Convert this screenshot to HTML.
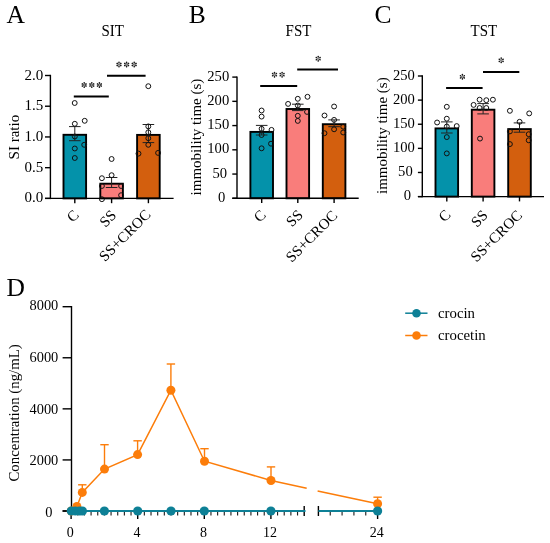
<!DOCTYPE html>
<html><head><meta charset="utf-8"><style>
html,body{margin:0;padding:0;background:#fff;}
svg{display:block;will-change:transform;font-family:"Liberation Serif",serif;}
</style></head><body>
<svg width="550" height="543" viewBox="0 0 550 543">
<rect width="550" height="543" fill="#fff"/>
<rect x="63.5" y="134.8" width="22.6" height="63.6" fill="#0492aa" stroke="#000" stroke-width="1.9"/>
<rect x="100.3" y="183.7" width="22.6" height="14.7" fill="#f97d7b" stroke="#000" stroke-width="1.9"/>
<rect x="137.1" y="134.9" width="22.6" height="63.5" fill="#d35f0e" stroke="#000" stroke-width="1.9"/>
<line x1="74.8" y1="126.6" x2="74.8" y2="140.7" stroke="#222" stroke-width="1.0"/>
<line x1="69.0" y1="126.6" x2="80.6" y2="126.6" stroke="#222" stroke-width="1.0"/>
<line x1="69.0" y1="140.7" x2="80.6" y2="140.7" stroke="#222" stroke-width="1.0"/>
<line x1="111.6" y1="177.5" x2="111.6" y2="187.5" stroke="#222" stroke-width="1.0"/>
<line x1="105.8" y1="177.5" x2="117.4" y2="177.5" stroke="#222" stroke-width="1.0"/>
<line x1="105.8" y1="187.5" x2="117.4" y2="187.5" stroke="#222" stroke-width="1.0"/>
<line x1="148.4" y1="124.5" x2="148.4" y2="142.6" stroke="#222" stroke-width="1.0"/>
<line x1="142.6" y1="124.5" x2="154.2" y2="124.5" stroke="#222" stroke-width="1.0"/>
<line x1="142.6" y1="142.6" x2="154.2" y2="142.6" stroke="#222" stroke-width="1.0"/>
<circle cx="74.8" cy="123.8" r="2.45" fill="none" stroke="#111" stroke-width="1.0"/>
<circle cx="84.7" cy="120.8" r="2.45" fill="none" stroke="#111" stroke-width="1.0"/>
<circle cx="74.8" cy="136.5" r="2.45" fill="none" stroke="#111" stroke-width="1.0"/>
<circle cx="84.2" cy="144.8" r="2.45" fill="none" stroke="#111" stroke-width="1.0"/>
<circle cx="74.8" cy="148.5" r="2.45" fill="none" stroke="#111" stroke-width="1.0"/>
<circle cx="74.8" cy="158" r="2.45" fill="none" stroke="#111" stroke-width="1.0"/>
<circle cx="74.7" cy="103" r="2.45" fill="none" stroke="#111" stroke-width="1.0"/>
<circle cx="111.6" cy="159" r="2.45" fill="none" stroke="#111" stroke-width="1.0"/>
<circle cx="111.6" cy="175.2" r="2.45" fill="none" stroke="#111" stroke-width="1.0"/>
<circle cx="101.9" cy="178.2" r="2.45" fill="none" stroke="#111" stroke-width="1.0"/>
<circle cx="101.9" cy="186" r="2.45" fill="none" stroke="#111" stroke-width="1.0"/>
<circle cx="121.1" cy="186" r="2.45" fill="none" stroke="#111" stroke-width="1.0"/>
<circle cx="121.1" cy="195.2" r="2.45" fill="none" stroke="#111" stroke-width="1.0"/>
<circle cx="101.9" cy="199.2" r="2.45" fill="none" stroke="#111" stroke-width="1.0"/>
<circle cx="148.3" cy="86.2" r="2.45" fill="none" stroke="#111" stroke-width="1.0"/>
<circle cx="148.3" cy="126.4" r="2.45" fill="none" stroke="#111" stroke-width="1.0"/>
<circle cx="148.3" cy="132.3" r="2.45" fill="none" stroke="#111" stroke-width="1.0"/>
<circle cx="148.3" cy="138.2" r="2.45" fill="none" stroke="#111" stroke-width="1.0"/>
<circle cx="148.3" cy="144.8" r="2.45" fill="none" stroke="#111" stroke-width="1.0"/>
<circle cx="138.5" cy="153.6" r="2.45" fill="none" stroke="#111" stroke-width="1.0"/>
<circle cx="158.1" cy="152.9" r="2.45" fill="none" stroke="#111" stroke-width="1.0"/>
<line x1="50.4" y1="74.8" x2="50.4" y2="199.1" stroke="#000" stroke-width="1.4"/>
<line x1="45.0" y1="198.4" x2="173.6" y2="198.4" stroke="#000" stroke-width="1.4"/>
<line x1="45.0" y1="198.4" x2="50.4" y2="198.4" stroke="#000" stroke-width="1.4"/>
<text x="43.2" y="202.4" font-size="15" text-anchor="end" fill="#000" >0.0</text>
<line x1="45.0" y1="167.68" x2="50.4" y2="167.68" stroke="#000" stroke-width="1.4"/>
<text x="43.2" y="171.68" font-size="15" text-anchor="end" fill="#000" >0.5</text>
<line x1="45.0" y1="136.95" x2="50.4" y2="136.95" stroke="#000" stroke-width="1.4"/>
<text x="43.2" y="140.95" font-size="15" text-anchor="end" fill="#000" >1.0</text>
<line x1="45.0" y1="106.22" x2="50.4" y2="106.22" stroke="#000" stroke-width="1.4"/>
<text x="43.2" y="110.22" font-size="15" text-anchor="end" fill="#000" >1.5</text>
<line x1="45.0" y1="75.5" x2="50.4" y2="75.5" stroke="#000" stroke-width="1.4"/>
<text x="43.2" y="79.5" font-size="15" text-anchor="end" fill="#000" >2.0</text>
<line x1="74.8" y1="198.4" x2="74.8" y2="203.2" stroke="#000" stroke-width="1.4"/>
<line x1="111.6" y1="198.4" x2="111.6" y2="203.2" stroke="#000" stroke-width="1.4"/>
<line x1="148.4" y1="198.4" x2="148.4" y2="203.2" stroke="#000" stroke-width="1.4"/>
<line x1="73.8" y1="96.6" x2="108.8" y2="96.6" stroke="#000" stroke-width="2.0"/>
<g transform="translate(84.20,85.00)" fill="#1a1a1a"><path d="M0,0L-0.45,-1.5A0.8,0.8 0 1 1 0.45,-1.5Z" transform="rotate(0)"/><path d="M0,0L-0.45,-1.5A0.8,0.8 0 1 1 0.45,-1.5Z" transform="rotate(60)"/><path d="M0,0L-0.45,-1.5A0.8,0.8 0 1 1 0.45,-1.5Z" transform="rotate(120)"/><path d="M0,0L-0.45,-1.5A0.8,0.8 0 1 1 0.45,-1.5Z" transform="rotate(180)"/><path d="M0,0L-0.45,-1.5A0.8,0.8 0 1 1 0.45,-1.5Z" transform="rotate(240)"/><path d="M0,0L-0.45,-1.5A0.8,0.8 0 1 1 0.45,-1.5Z" transform="rotate(300)"/></g>
<g transform="translate(91.80,85.00)" fill="#1a1a1a"><path d="M0,0L-0.45,-1.5A0.8,0.8 0 1 1 0.45,-1.5Z" transform="rotate(0)"/><path d="M0,0L-0.45,-1.5A0.8,0.8 0 1 1 0.45,-1.5Z" transform="rotate(60)"/><path d="M0,0L-0.45,-1.5A0.8,0.8 0 1 1 0.45,-1.5Z" transform="rotate(120)"/><path d="M0,0L-0.45,-1.5A0.8,0.8 0 1 1 0.45,-1.5Z" transform="rotate(180)"/><path d="M0,0L-0.45,-1.5A0.8,0.8 0 1 1 0.45,-1.5Z" transform="rotate(240)"/><path d="M0,0L-0.45,-1.5A0.8,0.8 0 1 1 0.45,-1.5Z" transform="rotate(300)"/></g>
<g transform="translate(99.40,85.00)" fill="#1a1a1a"><path d="M0,0L-0.45,-1.5A0.8,0.8 0 1 1 0.45,-1.5Z" transform="rotate(0)"/><path d="M0,0L-0.45,-1.5A0.8,0.8 0 1 1 0.45,-1.5Z" transform="rotate(60)"/><path d="M0,0L-0.45,-1.5A0.8,0.8 0 1 1 0.45,-1.5Z" transform="rotate(120)"/><path d="M0,0L-0.45,-1.5A0.8,0.8 0 1 1 0.45,-1.5Z" transform="rotate(180)"/><path d="M0,0L-0.45,-1.5A0.8,0.8 0 1 1 0.45,-1.5Z" transform="rotate(240)"/><path d="M0,0L-0.45,-1.5A0.8,0.8 0 1 1 0.45,-1.5Z" transform="rotate(300)"/></g>
<line x1="107" y1="75.8" x2="145.6" y2="75.8" stroke="#000" stroke-width="2.0"/>
<g transform="translate(119.00,64.50)" fill="#1a1a1a"><path d="M0,0L-0.45,-1.5A0.8,0.8 0 1 1 0.45,-1.5Z" transform="rotate(0)"/><path d="M0,0L-0.45,-1.5A0.8,0.8 0 1 1 0.45,-1.5Z" transform="rotate(60)"/><path d="M0,0L-0.45,-1.5A0.8,0.8 0 1 1 0.45,-1.5Z" transform="rotate(120)"/><path d="M0,0L-0.45,-1.5A0.8,0.8 0 1 1 0.45,-1.5Z" transform="rotate(180)"/><path d="M0,0L-0.45,-1.5A0.8,0.8 0 1 1 0.45,-1.5Z" transform="rotate(240)"/><path d="M0,0L-0.45,-1.5A0.8,0.8 0 1 1 0.45,-1.5Z" transform="rotate(300)"/></g>
<g transform="translate(126.60,64.50)" fill="#1a1a1a"><path d="M0,0L-0.45,-1.5A0.8,0.8 0 1 1 0.45,-1.5Z" transform="rotate(0)"/><path d="M0,0L-0.45,-1.5A0.8,0.8 0 1 1 0.45,-1.5Z" transform="rotate(60)"/><path d="M0,0L-0.45,-1.5A0.8,0.8 0 1 1 0.45,-1.5Z" transform="rotate(120)"/><path d="M0,0L-0.45,-1.5A0.8,0.8 0 1 1 0.45,-1.5Z" transform="rotate(180)"/><path d="M0,0L-0.45,-1.5A0.8,0.8 0 1 1 0.45,-1.5Z" transform="rotate(240)"/><path d="M0,0L-0.45,-1.5A0.8,0.8 0 1 1 0.45,-1.5Z" transform="rotate(300)"/></g>
<g transform="translate(134.20,64.50)" fill="#1a1a1a"><path d="M0,0L-0.45,-1.5A0.8,0.8 0 1 1 0.45,-1.5Z" transform="rotate(0)"/><path d="M0,0L-0.45,-1.5A0.8,0.8 0 1 1 0.45,-1.5Z" transform="rotate(60)"/><path d="M0,0L-0.45,-1.5A0.8,0.8 0 1 1 0.45,-1.5Z" transform="rotate(120)"/><path d="M0,0L-0.45,-1.5A0.8,0.8 0 1 1 0.45,-1.5Z" transform="rotate(180)"/><path d="M0,0L-0.45,-1.5A0.8,0.8 0 1 1 0.45,-1.5Z" transform="rotate(240)"/><path d="M0,0L-0.45,-1.5A0.8,0.8 0 1 1 0.45,-1.5Z" transform="rotate(300)"/></g>
<text x="6.5" y="23" font-size="25.5" text-anchor="start" fill="#000" >A</text>
<text transform="translate(112.7,35.6) scale(1,1.1)" font-size="15" text-anchor="middle">SIT</text>
<text transform="translate(18.7,137.1) rotate(-90)" font-size="15" text-anchor="middle">SI ratio</text>
<text transform="translate(79.9,215.8) rotate(-45)" font-size="15" text-anchor="end">C</text>
<text transform="translate(117.2,216.2) rotate(-45)" font-size="15" text-anchor="end">SS</text>
<text transform="translate(151.7,215.5) rotate(-45)" font-size="15" text-anchor="end">SS+CROC</text>
<rect x="250.4" y="131.9" width="22.6" height="66.4" fill="#0492aa" stroke="#000" stroke-width="1.9"/>
<rect x="286.5" y="109.0" width="22.6" height="89.3" fill="#f97d7b" stroke="#000" stroke-width="1.9"/>
<rect x="322.8" y="124.2" width="22.6" height="74.1" fill="#d35f0e" stroke="#000" stroke-width="1.9"/>
<line x1="261.7" y1="125.4" x2="261.7" y2="135" stroke="#222" stroke-width="1.0"/>
<line x1="255.9" y1="125.4" x2="267.5" y2="125.4" stroke="#222" stroke-width="1.0"/>
<line x1="255.9" y1="135" x2="267.5" y2="135" stroke="#222" stroke-width="1.0"/>
<line x1="297.8" y1="104.2" x2="297.8" y2="110.6" stroke="#222" stroke-width="1.0"/>
<line x1="292.0" y1="104.2" x2="303.6" y2="104.2" stroke="#222" stroke-width="1.0"/>
<line x1="292.0" y1="110.6" x2="303.6" y2="110.6" stroke="#222" stroke-width="1.0"/>
<line x1="334.1" y1="119.9" x2="334.1" y2="126.7" stroke="#222" stroke-width="1.0"/>
<line x1="328.3" y1="119.9" x2="339.9" y2="119.9" stroke="#222" stroke-width="1.0"/>
<line x1="328.3" y1="126.7" x2="339.9" y2="126.7" stroke="#222" stroke-width="1.0"/>
<circle cx="261.6" cy="110.5" r="2.45" fill="none" stroke="#111" stroke-width="1.0"/>
<circle cx="261.6" cy="116.6" r="2.45" fill="none" stroke="#111" stroke-width="1.0"/>
<circle cx="261.6" cy="128.8" r="2.45" fill="none" stroke="#111" stroke-width="1.0"/>
<circle cx="271.5" cy="129.9" r="2.45" fill="none" stroke="#111" stroke-width="1.0"/>
<circle cx="261.6" cy="135" r="2.45" fill="none" stroke="#111" stroke-width="1.0"/>
<circle cx="271" cy="143.7" r="2.45" fill="none" stroke="#111" stroke-width="1.0"/>
<circle cx="261.6" cy="148.3" r="2.45" fill="none" stroke="#111" stroke-width="1.0"/>
<circle cx="288.1" cy="103.9" r="2.45" fill="none" stroke="#111" stroke-width="1.0"/>
<circle cx="297.8" cy="98.8" r="2.45" fill="none" stroke="#111" stroke-width="1.0"/>
<circle cx="307.5" cy="96.8" r="2.45" fill="none" stroke="#111" stroke-width="1.0"/>
<circle cx="297.8" cy="105.5" r="2.45" fill="none" stroke="#111" stroke-width="1.0"/>
<circle cx="307" cy="111.9" r="2.45" fill="none" stroke="#111" stroke-width="1.0"/>
<circle cx="297.8" cy="115.8" r="2.45" fill="none" stroke="#111" stroke-width="1.0"/>
<circle cx="297.8" cy="120.9" r="2.45" fill="none" stroke="#111" stroke-width="1.0"/>
<circle cx="334.1" cy="106.5" r="2.45" fill="none" stroke="#111" stroke-width="1.0"/>
<circle cx="324.5" cy="115.5" r="2.45" fill="none" stroke="#111" stroke-width="1.0"/>
<circle cx="334.1" cy="119.9" r="2.45" fill="none" stroke="#111" stroke-width="1.0"/>
<circle cx="343.2" cy="126.7" r="2.45" fill="none" stroke="#111" stroke-width="1.0"/>
<circle cx="334.1" cy="129.3" r="2.45" fill="none" stroke="#111" stroke-width="1.0"/>
<circle cx="324.5" cy="133.2" r="2.45" fill="none" stroke="#111" stroke-width="1.0"/>
<circle cx="343.2" cy="132.5" r="2.45" fill="none" stroke="#111" stroke-width="1.0"/>
<line x1="237.0" y1="76.4" x2="237.0" y2="199.0" stroke="#000" stroke-width="1.4"/>
<line x1="232.3" y1="198.3" x2="358.7" y2="198.3" stroke="#000" stroke-width="1.4"/>
<line x1="232.3" y1="198.3" x2="237.0" y2="198.3" stroke="#000" stroke-width="1.4"/>
<text x="225.4" y="201.8" font-size="14.6" text-anchor="end" fill="#000" >0</text>
<line x1="232.3" y1="174.06" x2="237.0" y2="174.06" stroke="#000" stroke-width="1.4"/>
<text x="227.1" y="177.56" font-size="14.6" text-anchor="end" fill="#000" >50</text>
<line x1="232.3" y1="149.82" x2="237.0" y2="149.82" stroke="#000" stroke-width="1.4"/>
<text x="229.2" y="153.32" font-size="14.6" text-anchor="end" fill="#000" >100</text>
<line x1="232.3" y1="125.58" x2="237.0" y2="125.58" stroke="#000" stroke-width="1.4"/>
<text x="229.2" y="129.08" font-size="14.6" text-anchor="end" fill="#000" >150</text>
<line x1="232.3" y1="101.34" x2="237.0" y2="101.34" stroke="#000" stroke-width="1.4"/>
<text x="229.2" y="104.84" font-size="14.6" text-anchor="end" fill="#000" >200</text>
<line x1="232.3" y1="77.1" x2="237.0" y2="77.1" stroke="#000" stroke-width="1.4"/>
<text x="229.2" y="80.6" font-size="14.6" text-anchor="end" fill="#000" >250</text>
<line x1="261.7" y1="198.3" x2="261.7" y2="203.1" stroke="#000" stroke-width="1.4"/>
<line x1="297.8" y1="198.3" x2="297.8" y2="203.1" stroke="#000" stroke-width="1.4"/>
<line x1="334.1" y1="198.3" x2="334.1" y2="203.1" stroke="#000" stroke-width="1.4"/>
<line x1="260.2" y1="85.9" x2="297.2" y2="85.9" stroke="#000" stroke-width="2.0"/>
<g transform="translate(274.50,74.70)" fill="#1a1a1a"><path d="M0,0L-0.45,-1.5A0.8,0.8 0 1 1 0.45,-1.5Z" transform="rotate(0)"/><path d="M0,0L-0.45,-1.5A0.8,0.8 0 1 1 0.45,-1.5Z" transform="rotate(60)"/><path d="M0,0L-0.45,-1.5A0.8,0.8 0 1 1 0.45,-1.5Z" transform="rotate(120)"/><path d="M0,0L-0.45,-1.5A0.8,0.8 0 1 1 0.45,-1.5Z" transform="rotate(180)"/><path d="M0,0L-0.45,-1.5A0.8,0.8 0 1 1 0.45,-1.5Z" transform="rotate(240)"/><path d="M0,0L-0.45,-1.5A0.8,0.8 0 1 1 0.45,-1.5Z" transform="rotate(300)"/></g>
<g transform="translate(282.10,74.70)" fill="#1a1a1a"><path d="M0,0L-0.45,-1.5A0.8,0.8 0 1 1 0.45,-1.5Z" transform="rotate(0)"/><path d="M0,0L-0.45,-1.5A0.8,0.8 0 1 1 0.45,-1.5Z" transform="rotate(60)"/><path d="M0,0L-0.45,-1.5A0.8,0.8 0 1 1 0.45,-1.5Z" transform="rotate(120)"/><path d="M0,0L-0.45,-1.5A0.8,0.8 0 1 1 0.45,-1.5Z" transform="rotate(180)"/><path d="M0,0L-0.45,-1.5A0.8,0.8 0 1 1 0.45,-1.5Z" transform="rotate(240)"/><path d="M0,0L-0.45,-1.5A0.8,0.8 0 1 1 0.45,-1.5Z" transform="rotate(300)"/></g>
<line x1="297.2" y1="69.6" x2="338" y2="69.6" stroke="#000" stroke-width="2.0"/>
<g transform="translate(318.20,58.70)" fill="#1a1a1a"><path d="M0,0L-0.45,-1.5A0.8,0.8 0 1 1 0.45,-1.5Z" transform="rotate(0)"/><path d="M0,0L-0.45,-1.5A0.8,0.8 0 1 1 0.45,-1.5Z" transform="rotate(60)"/><path d="M0,0L-0.45,-1.5A0.8,0.8 0 1 1 0.45,-1.5Z" transform="rotate(120)"/><path d="M0,0L-0.45,-1.5A0.8,0.8 0 1 1 0.45,-1.5Z" transform="rotate(180)"/><path d="M0,0L-0.45,-1.5A0.8,0.8 0 1 1 0.45,-1.5Z" transform="rotate(240)"/><path d="M0,0L-0.45,-1.5A0.8,0.8 0 1 1 0.45,-1.5Z" transform="rotate(300)"/></g>
<text x="188.8" y="23" font-size="25.5" text-anchor="start" fill="#000" >B</text>
<text transform="translate(298.5,36) scale(1,1.1)" font-size="15" text-anchor="middle">FST</text>
<text transform="translate(201.1,137.05) rotate(-90)" font-size="15" text-anchor="middle">immobility time (s)</text>
<text transform="translate(266.8,215.8) rotate(-45)" font-size="15" text-anchor="end">C</text>
<text transform="translate(303.9,215.8) rotate(-45)" font-size="15" text-anchor="end">SS</text>
<text transform="translate(338.4,216.4) rotate(-45)" font-size="15" text-anchor="end">SS+CROC</text>
<rect x="435.5" y="128.4" width="22.6" height="68.2" fill="#0492aa" stroke="#000" stroke-width="1.9"/>
<rect x="471.8" y="109.7" width="22.6" height="86.9" fill="#f97d7b" stroke="#000" stroke-width="1.9"/>
<rect x="508.2" y="129.1" width="22.6" height="67.5" fill="#d35f0e" stroke="#000" stroke-width="1.9"/>
<line x1="446.8" y1="121.9" x2="446.8" y2="133" stroke="#222" stroke-width="1.0"/>
<line x1="441.0" y1="121.9" x2="452.6" y2="121.9" stroke="#222" stroke-width="1.0"/>
<line x1="441.0" y1="133" x2="452.6" y2="133" stroke="#222" stroke-width="1.0"/>
<line x1="483.1" y1="103.6" x2="483.1" y2="113.9" stroke="#222" stroke-width="1.0"/>
<line x1="477.3" y1="103.6" x2="488.9" y2="103.6" stroke="#222" stroke-width="1.0"/>
<line x1="477.3" y1="113.9" x2="488.9" y2="113.9" stroke="#222" stroke-width="1.0"/>
<line x1="519.5" y1="122.9" x2="519.5" y2="132.2" stroke="#222" stroke-width="1.0"/>
<line x1="513.7" y1="122.9" x2="525.3" y2="122.9" stroke="#222" stroke-width="1.0"/>
<line x1="513.7" y1="132.2" x2="525.3" y2="132.2" stroke="#222" stroke-width="1.0"/>
<circle cx="446.8" cy="106.8" r="2.45" fill="none" stroke="#111" stroke-width="1.0"/>
<circle cx="446.8" cy="118.7" r="2.45" fill="none" stroke="#111" stroke-width="1.0"/>
<circle cx="437.1" cy="122.5" r="2.45" fill="none" stroke="#111" stroke-width="1.0"/>
<circle cx="446.8" cy="126.5" r="2.45" fill="none" stroke="#111" stroke-width="1.0"/>
<circle cx="456.7" cy="126.1" r="2.45" fill="none" stroke="#111" stroke-width="1.0"/>
<circle cx="446.8" cy="137.1" r="2.45" fill="none" stroke="#111" stroke-width="1.0"/>
<circle cx="446.8" cy="153.4" r="2.45" fill="none" stroke="#111" stroke-width="1.0"/>
<circle cx="473.6" cy="104.9" r="2.45" fill="none" stroke="#111" stroke-width="1.0"/>
<circle cx="479.6" cy="99.7" r="2.45" fill="none" stroke="#111" stroke-width="1.0"/>
<circle cx="486.3" cy="100.2" r="2.45" fill="none" stroke="#111" stroke-width="1.0"/>
<circle cx="492.9" cy="99.7" r="2.45" fill="none" stroke="#111" stroke-width="1.0"/>
<circle cx="479.6" cy="108" r="2.45" fill="none" stroke="#111" stroke-width="1.0"/>
<circle cx="486.3" cy="108" r="2.45" fill="none" stroke="#111" stroke-width="1.0"/>
<circle cx="480" cy="138.6" r="2.45" fill="none" stroke="#111" stroke-width="1.0"/>
<circle cx="509.9" cy="110.8" r="2.45" fill="none" stroke="#111" stroke-width="1.0"/>
<circle cx="529.2" cy="113.4" r="2.45" fill="none" stroke="#111" stroke-width="1.0"/>
<circle cx="519.6" cy="121.8" r="2.45" fill="none" stroke="#111" stroke-width="1.0"/>
<circle cx="528.7" cy="134.2" r="2.45" fill="none" stroke="#111" stroke-width="1.0"/>
<circle cx="528.7" cy="140.3" r="2.45" fill="none" stroke="#111" stroke-width="1.0"/>
<circle cx="509.9" cy="144.1" r="2.45" fill="none" stroke="#111" stroke-width="1.0"/>
<circle cx="509.9" cy="131.4" r="2.45" fill="none" stroke="#111" stroke-width="1.0"/>
<line x1="422.3" y1="75.3" x2="422.3" y2="197.3" stroke="#000" stroke-width="1.4"/>
<line x1="417.9" y1="196.6" x2="544" y2="196.6" stroke="#000" stroke-width="1.4"/>
<line x1="417.9" y1="196.6" x2="422.3" y2="196.6" stroke="#000" stroke-width="1.4"/>
<text x="411" y="200.1" font-size="14.6" text-anchor="end" fill="#000" >0</text>
<line x1="417.9" y1="172.48" x2="422.3" y2="172.48" stroke="#000" stroke-width="1.4"/>
<text x="412.7" y="175.98" font-size="14.6" text-anchor="end" fill="#000" >50</text>
<line x1="417.9" y1="148.36" x2="422.3" y2="148.36" stroke="#000" stroke-width="1.4"/>
<text x="414.8" y="151.86" font-size="14.6" text-anchor="end" fill="#000" >100</text>
<line x1="417.9" y1="124.24" x2="422.3" y2="124.24" stroke="#000" stroke-width="1.4"/>
<text x="414.8" y="127.74" font-size="14.6" text-anchor="end" fill="#000" >150</text>
<line x1="417.9" y1="100.12" x2="422.3" y2="100.12" stroke="#000" stroke-width="1.4"/>
<text x="414.8" y="103.62" font-size="14.6" text-anchor="end" fill="#000" >200</text>
<line x1="417.9" y1="76.0" x2="422.3" y2="76.0" stroke="#000" stroke-width="1.4"/>
<text x="414.8" y="79.5" font-size="14.6" text-anchor="end" fill="#000" >250</text>
<line x1="446.8" y1="196.6" x2="446.8" y2="201.4" stroke="#000" stroke-width="1.4"/>
<line x1="483.1" y1="196.6" x2="483.1" y2="201.4" stroke="#000" stroke-width="1.4"/>
<line x1="519.5" y1="196.6" x2="519.5" y2="201.4" stroke="#000" stroke-width="1.4"/>
<line x1="446.1" y1="88.1" x2="482.6" y2="88.1" stroke="#000" stroke-width="2.0"/>
<g transform="translate(462.40,76.80)" fill="#1a1a1a"><path d="M0,0L-0.45,-1.5A0.8,0.8 0 1 1 0.45,-1.5Z" transform="rotate(0)"/><path d="M0,0L-0.45,-1.5A0.8,0.8 0 1 1 0.45,-1.5Z" transform="rotate(60)"/><path d="M0,0L-0.45,-1.5A0.8,0.8 0 1 1 0.45,-1.5Z" transform="rotate(120)"/><path d="M0,0L-0.45,-1.5A0.8,0.8 0 1 1 0.45,-1.5Z" transform="rotate(180)"/><path d="M0,0L-0.45,-1.5A0.8,0.8 0 1 1 0.45,-1.5Z" transform="rotate(240)"/><path d="M0,0L-0.45,-1.5A0.8,0.8 0 1 1 0.45,-1.5Z" transform="rotate(300)"/></g>
<line x1="483" y1="72.1" x2="519.3" y2="72.1" stroke="#000" stroke-width="2.0"/>
<g transform="translate(501.20,60.30)" fill="#1a1a1a"><path d="M0,0L-0.45,-1.5A0.8,0.8 0 1 1 0.45,-1.5Z" transform="rotate(0)"/><path d="M0,0L-0.45,-1.5A0.8,0.8 0 1 1 0.45,-1.5Z" transform="rotate(60)"/><path d="M0,0L-0.45,-1.5A0.8,0.8 0 1 1 0.45,-1.5Z" transform="rotate(120)"/><path d="M0,0L-0.45,-1.5A0.8,0.8 0 1 1 0.45,-1.5Z" transform="rotate(180)"/><path d="M0,0L-0.45,-1.5A0.8,0.8 0 1 1 0.45,-1.5Z" transform="rotate(240)"/><path d="M0,0L-0.45,-1.5A0.8,0.8 0 1 1 0.45,-1.5Z" transform="rotate(300)"/></g>
<text x="374.6" y="23.2" font-size="25.5" text-anchor="start" fill="#000" >C</text>
<text transform="translate(483.8,35.9) scale(1,1.1)" font-size="15" text-anchor="middle">TST</text>
<text transform="translate(386.8,135.7) rotate(-90)" font-size="15" text-anchor="middle">immobility time (s)</text>
<text transform="translate(451.5,215.6) rotate(-45)" font-size="15" text-anchor="end">C</text>
<text transform="translate(488.7,216.1) rotate(-45)" font-size="15" text-anchor="end">SS</text>
<text transform="translate(523.2,216.1) rotate(-45)" font-size="15" text-anchor="end">SS+CROC</text>
<text x="6.4" y="295.8" font-size="25.5" text-anchor="start" fill="#000" >D</text>
<line x1="62.6" y1="511.0" x2="71.5" y2="511.0" stroke="#000" stroke-width="1.4"/>
<text x="52.5" y="516.5" font-size="14.4" text-anchor="end" fill="#000" >0</text>
<line x1="62.6" y1="459.93" x2="71.5" y2="459.93" stroke="#000" stroke-width="1.4"/>
<text x="58.3" y="465.25" font-size="14.4" text-anchor="end" fill="#000" >2000</text>
<line x1="62.6" y1="408.85" x2="71.5" y2="408.85" stroke="#000" stroke-width="1.4"/>
<text x="58.3" y="413.65" font-size="14.4" text-anchor="end" fill="#000" >4000</text>
<line x1="62.6" y1="357.77" x2="71.5" y2="357.77" stroke="#000" stroke-width="1.4"/>
<text x="58.3" y="361.85" font-size="14.4" text-anchor="end" fill="#000" >6000</text>
<line x1="62.6" y1="306.7" x2="71.5" y2="306.7" stroke="#000" stroke-width="1.4"/>
<text x="58.3" y="310.05" font-size="14.4" text-anchor="end" fill="#000" >8000</text>
<line x1="71.5" y1="306.0" x2="71.5" y2="511.7" stroke="#000" stroke-width="1.4"/>
<text transform="translate(18.6,412.9) rotate(-90)" font-size="14.85" text-anchor="middle">Concentration (ng/mL)</text>
<line x1="62.6" y1="511.0" x2="304.5" y2="511.0" stroke="#000" stroke-width="1.4"/>
<line x1="318.4" y1="511.0" x2="377.6" y2="511.0" stroke="#000" stroke-width="1.4"/>
<line x1="71.1" y1="511.0" x2="71.1" y2="519.0" stroke="#000" stroke-width="1.4"/>
<line x1="77.76" y1="511.0" x2="77.76" y2="515.5" stroke="#222" stroke-width="1.15"/>
<line x1="84.42" y1="511.0" x2="84.42" y2="515.5" stroke="#222" stroke-width="1.15"/>
<line x1="91.08" y1="511.0" x2="91.08" y2="515.5" stroke="#222" stroke-width="1.15"/>
<line x1="97.74" y1="511.0" x2="97.74" y2="515.5" stroke="#222" stroke-width="1.15"/>
<line x1="104.4" y1="511.0" x2="104.4" y2="515.5" stroke="#222" stroke-width="1.15"/>
<line x1="111.06" y1="511.0" x2="111.06" y2="515.5" stroke="#222" stroke-width="1.15"/>
<line x1="117.72" y1="511.0" x2="117.72" y2="515.5" stroke="#222" stroke-width="1.15"/>
<line x1="124.38" y1="511.0" x2="124.38" y2="515.5" stroke="#222" stroke-width="1.15"/>
<line x1="131.04" y1="511.0" x2="131.04" y2="515.5" stroke="#222" stroke-width="1.15"/>
<line x1="137.7" y1="511.0" x2="137.7" y2="519.0" stroke="#000" stroke-width="1.4"/>
<line x1="144.36" y1="511.0" x2="144.36" y2="515.5" stroke="#222" stroke-width="1.15"/>
<line x1="151.02" y1="511.0" x2="151.02" y2="515.5" stroke="#222" stroke-width="1.15"/>
<line x1="157.68" y1="511.0" x2="157.68" y2="515.5" stroke="#222" stroke-width="1.15"/>
<line x1="164.34" y1="511.0" x2="164.34" y2="515.5" stroke="#222" stroke-width="1.15"/>
<line x1="171.0" y1="511.0" x2="171.0" y2="515.5" stroke="#222" stroke-width="1.15"/>
<line x1="177.66" y1="511.0" x2="177.66" y2="515.5" stroke="#222" stroke-width="1.15"/>
<line x1="184.32" y1="511.0" x2="184.32" y2="515.5" stroke="#222" stroke-width="1.15"/>
<line x1="190.98" y1="511.0" x2="190.98" y2="515.5" stroke="#222" stroke-width="1.15"/>
<line x1="197.64" y1="511.0" x2="197.64" y2="515.5" stroke="#222" stroke-width="1.15"/>
<line x1="204.3" y1="511.0" x2="204.3" y2="519.0" stroke="#000" stroke-width="1.4"/>
<line x1="210.96" y1="511.0" x2="210.96" y2="515.5" stroke="#222" stroke-width="1.15"/>
<line x1="217.62" y1="511.0" x2="217.62" y2="515.5" stroke="#222" stroke-width="1.15"/>
<line x1="224.28" y1="511.0" x2="224.28" y2="515.5" stroke="#222" stroke-width="1.15"/>
<line x1="230.94" y1="511.0" x2="230.94" y2="515.5" stroke="#222" stroke-width="1.15"/>
<line x1="237.6" y1="511.0" x2="237.6" y2="515.5" stroke="#222" stroke-width="1.15"/>
<line x1="244.26" y1="511.0" x2="244.26" y2="515.5" stroke="#222" stroke-width="1.15"/>
<line x1="250.92" y1="511.0" x2="250.92" y2="515.5" stroke="#222" stroke-width="1.15"/>
<line x1="257.58" y1="511.0" x2="257.58" y2="515.5" stroke="#222" stroke-width="1.15"/>
<line x1="264.24" y1="511.0" x2="264.24" y2="515.5" stroke="#222" stroke-width="1.15"/>
<line x1="270.9" y1="511.0" x2="270.9" y2="519.0" stroke="#000" stroke-width="1.4"/>
<line x1="277.56" y1="511.0" x2="277.56" y2="515.5" stroke="#222" stroke-width="1.15"/>
<line x1="284.22" y1="511.0" x2="284.22" y2="515.5" stroke="#222" stroke-width="1.15"/>
<line x1="290.88" y1="511.0" x2="290.88" y2="515.5" stroke="#222" stroke-width="1.15"/>
<line x1="297.54" y1="511.0" x2="297.54" y2="515.5" stroke="#222" stroke-width="1.15"/>
<line x1="304.2" y1="506.0" x2="304.2" y2="516.0" stroke="#000" stroke-width="1.4"/>
<line x1="318.4" y1="506.0" x2="318.4" y2="516.0" stroke="#000" stroke-width="1.4"/>
<line x1="330.24" y1="511.0" x2="330.24" y2="515.5" stroke="#222" stroke-width="1.15"/>
<line x1="342.08" y1="511.0" x2="342.08" y2="515.5" stroke="#222" stroke-width="1.15"/>
<line x1="353.92" y1="511.0" x2="353.92" y2="515.5" stroke="#222" stroke-width="1.15"/>
<line x1="365.76" y1="511.0" x2="365.76" y2="515.5" stroke="#222" stroke-width="1.15"/>
<line x1="377.6" y1="511.0" x2="377.6" y2="519.0" stroke="#000" stroke-width="1.4"/>
<text x="70.3" y="537" font-size="14" text-anchor="middle" fill="#000" >0</text>
<text x="136.9" y="537" font-size="14" text-anchor="middle" fill="#000" >4</text>
<text x="203.5" y="537" font-size="14" text-anchor="middle" fill="#000" >8</text>
<text x="270.1" y="537" font-size="14" text-anchor="middle" fill="#000" >12</text>
<text x="376.8" y="537" font-size="14" text-anchor="middle" fill="#000" >24</text>
<polyline fill="none" stroke="#fc7d0a" stroke-width="1.5" points="71.3,511 76.9,506.5 82.3,492.4 104.5,469.1 137.6,454.6 170.9,390.2 204.5,461.2 271,480.5"/>
<line x1="271" y1="480.5" x2="306.7" y2="488.2" stroke="#fc7d0a" stroke-width="1.5"/>
<line x1="317.6" y1="490.9" x2="377.6" y2="503.7" stroke="#fc7d0a" stroke-width="1.5"/>
<line x1="82.3" y1="492.4" x2="82.3" y2="484.8" stroke="#fc7d0a" stroke-width="1.4"/>
<line x1="78.1" y1="484.8" x2="86.5" y2="484.8" stroke="#fc7d0a" stroke-width="1.4"/>
<line x1="104.5" y1="469.1" x2="104.5" y2="444.7" stroke="#fc7d0a" stroke-width="1.4"/>
<line x1="100.3" y1="444.7" x2="108.7" y2="444.7" stroke="#fc7d0a" stroke-width="1.4"/>
<line x1="137.6" y1="454.6" x2="137.6" y2="440.8" stroke="#fc7d0a" stroke-width="1.4"/>
<line x1="133.4" y1="440.8" x2="141.8" y2="440.8" stroke="#fc7d0a" stroke-width="1.4"/>
<line x1="170.9" y1="390.2" x2="170.9" y2="364" stroke="#fc7d0a" stroke-width="1.4"/>
<line x1="166.7" y1="364" x2="175.1" y2="364" stroke="#fc7d0a" stroke-width="1.4"/>
<line x1="204.5" y1="461.2" x2="204.5" y2="448.7" stroke="#fc7d0a" stroke-width="1.4"/>
<line x1="200.3" y1="448.7" x2="208.7" y2="448.7" stroke="#fc7d0a" stroke-width="1.4"/>
<line x1="271" y1="480.5" x2="271" y2="466.9" stroke="#fc7d0a" stroke-width="1.4"/>
<line x1="266.8" y1="466.9" x2="275.2" y2="466.9" stroke="#fc7d0a" stroke-width="1.4"/>
<line x1="377.6" y1="503.7" x2="377.6" y2="497.2" stroke="#fc7d0a" stroke-width="1.4"/>
<line x1="373.4" y1="497.2" x2="381.8" y2="497.2" stroke="#fc7d0a" stroke-width="1.4"/>
<circle cx="71.3" cy="511" r="4.5" fill="#fc7d0a"/>
<circle cx="76.9" cy="506.5" r="4.5" fill="#fc7d0a"/>
<circle cx="82.3" cy="492.4" r="4.5" fill="#fc7d0a"/>
<circle cx="104.5" cy="469.1" r="4.5" fill="#fc7d0a"/>
<circle cx="137.6" cy="454.6" r="4.5" fill="#fc7d0a"/>
<circle cx="170.9" cy="390.2" r="4.5" fill="#fc7d0a"/>
<circle cx="204.5" cy="461.2" r="4.5" fill="#fc7d0a"/>
<circle cx="271" cy="480.5" r="4.5" fill="#fc7d0a"/>
<circle cx="377.6" cy="503.7" r="4.5" fill="#fc7d0a"/>
<line x1="71.1" y1="511.0" x2="305.5" y2="511.0" stroke="#0d8096" stroke-width="1.8"/>
<line x1="318.4" y1="511.0" x2="377.6" y2="511.0" stroke="#0d8096" stroke-width="1.8"/>
<circle cx="71.3" cy="511.0" r="4.6" fill="#0d8096"/>
<circle cx="75.3" cy="511.0" r="4.6" fill="#0d8096"/>
<circle cx="79.4" cy="511.0" r="4.6" fill="#0d8096"/>
<circle cx="82.4" cy="511.0" r="4.6" fill="#0d8096"/>
<circle cx="104.4" cy="511.0" r="4.6" fill="#0d8096"/>
<circle cx="137.7" cy="511.0" r="4.6" fill="#0d8096"/>
<circle cx="171" cy="511.0" r="4.6" fill="#0d8096"/>
<circle cx="204.3" cy="511.0" r="4.6" fill="#0d8096"/>
<circle cx="270.9" cy="511.0" r="4.6" fill="#0d8096"/>
<circle cx="377.6" cy="511.0" r="4.6" fill="#0d8096"/>
<line x1="405.2" y1="313.2" x2="427.5" y2="313.2" stroke="#0d8096" stroke-width="1.5"/>
<circle cx="416.5" cy="313.2" r="4.3" fill="#0d8096"/>
<text x="438" y="317.7" font-size="14.8" text-anchor="start" fill="#000" >crocin</text>
<line x1="405.2" y1="335.5" x2="427.5" y2="335.5" stroke="#fc7d0a" stroke-width="1.5"/>
<circle cx="416.5" cy="335.5" r="4.3" fill="#fc7d0a"/>
<text x="438" y="340.0" font-size="14.8" text-anchor="start" fill="#000" >crocetin</text>
</svg></body></html>
